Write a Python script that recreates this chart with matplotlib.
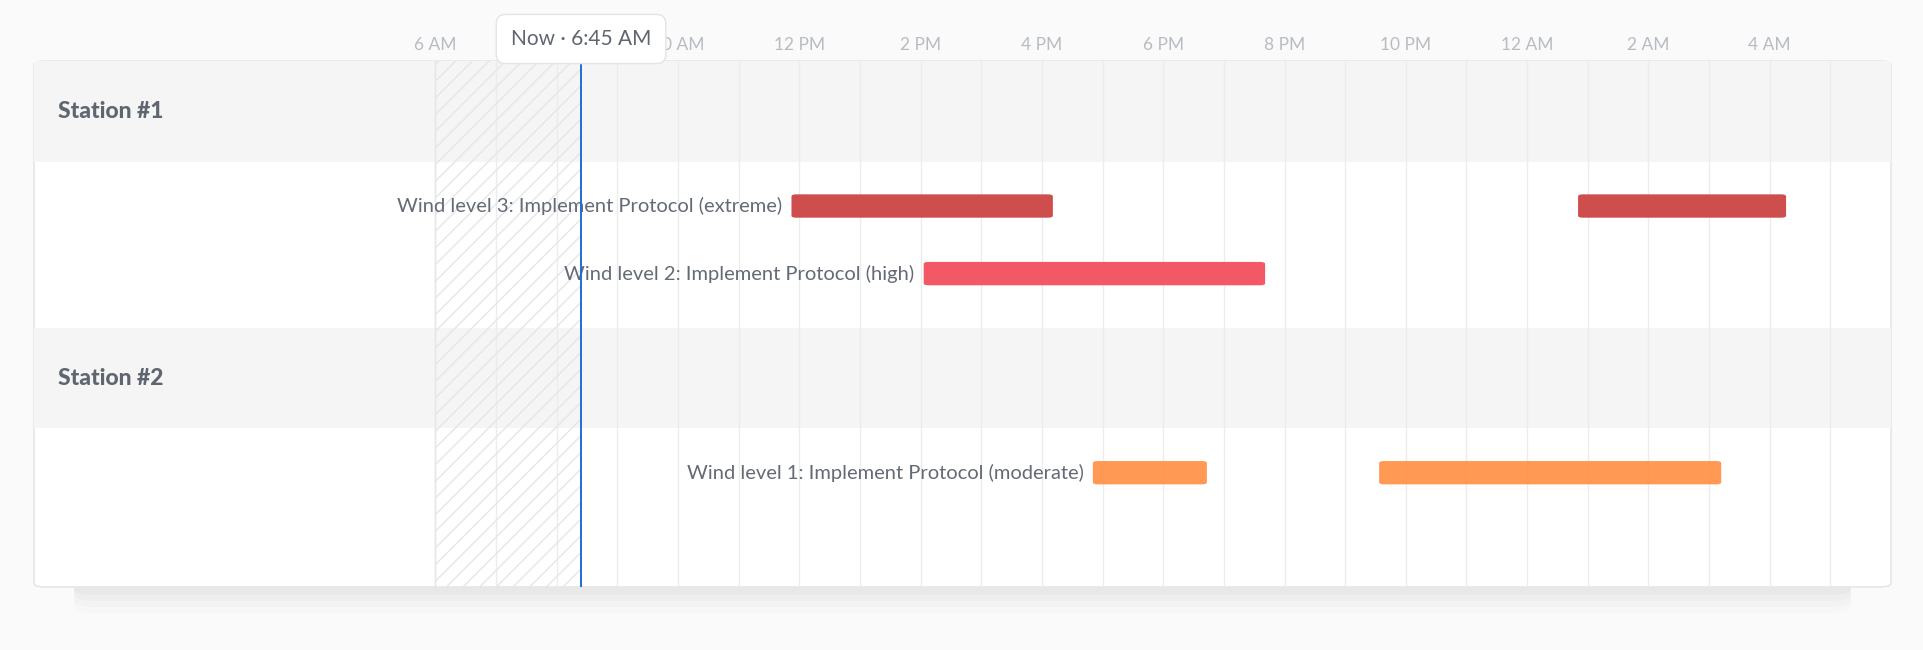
import matplotlib
matplotlib.use("Agg")
import matplotlib.pyplot as plt
from matplotlib.patches import Rectangle, FancyBboxPatch
import matplotlib.transforms as mtransforms

plt.rcParams['font.family'] = ['Lato', 'DejaVu Sans']

stations = ["Station #1", "Station #2"]
labels = ["Wind level 3: Implement Protocol (extreme)",
          "Wind level 2: Implement Protocol (high)",
          "Wind level 1: Implement Protocol (moderate)"]
colors = ["#cc4444", "#f24f5e", "#ff944a"]
# hours since midnight of day 1
starts = [[11.87, 24.84], [14.05], [16.84, 21.56]]
ends = [[16.18, 28.27], [19.68], [18.72, 27.2]]
tick_hours = [6, 8, 10, 12, 14, 16, 18, 20, 22, 24, 26, 28]
tick_labels = ["6 AM", "8 AM", "10 AM", "12 PM", "2 PM", "4 PM", "6 PM", "8 PM",
               "10 PM", "12 AM", "2 AM", "4 AM"]
now_hour = 8.4
now_label = "Now · 6:45 AM"

W, H = 1924, 650
fig = plt.figure(figsize=(W/100, H/100), dpi=100, facecolor="#fafafa")
L, R, T, B = 34, 1891, 61, 587
ax = fig.add_axes([L/W, 1-B/H, (R-L)/W, (B-T)/H])
ax.set_zorder(1)
ax.set_xlim(-0.62, 30)
ax.set_ylim(428, 0)
ax.axis("off")

# card shadow + card
for k, a in enumerate([0.025, 0.02, 0.015, 0.01]):
    sh = FancyBboxPatch(((L+40)/W, 1-(B+8+k*6)/H), (R-L-80)/W, (B-T-60)/H,
                        boxstyle="round,pad=0,rounding_size=0.01", transform=fig.transFigure,
                        fc="black", ec="none", alpha=a, zorder=-20)
    fig.patches.append(sh)
card = FancyBboxPatch((L/W, 1-B/H), (R-L)/W, (B-T)/H, boxstyle="round,pad=0,rounding_size=0.006",
                      transform=fig.transFigure, fc="white", ec="#e6e6e6", lw=1.2, zorder=-10)
fig.patches.append(card)
# header bands
for y0 in (0, 217):
    ax.axhspan(y0, y0+82, color="#f5f5f5", zorder=1, lw=0)
# gridlines
for h in range(6, 30):
    ax.axvline(h, color="#ececec", lw=1, zorder=2)
# hatch past region
ax.add_patch(Rectangle((6, 0), now_hour-6, 428, fill=False, hatch="//", ec="#e6e6e6", lw=0, zorder=2))
ax.axvline(6, color="#e6e6e6", lw=1, zorder=2)
# station headers
hdr_tr = mtransforms.blended_transform_factory(ax.transAxes, ax.transData)
for i, s in enumerate(stations):
    ax.text(0.013, [41, 258][i], s, transform=hdr_tr,
            fontsize=16.5, fontweight="black", color="#5f6670", va="center", zorder=5)
# bars
ys = [118, 173, 335]
for i in range(3):
    for s, e in zip(starts[i], ends[i]):
        ax.add_patch(FancyBboxPatch((s, ys[i]-9.5), e-s, 19, boxstyle="round,pad=0,rounding_size=0.08",
                                    mutation_aspect=20, fc=colors[i], ec="none", alpha=0.95, zorder=4))
    ax.text(starts[i][0]-0.15, ys[i], labels[i], ha="right", va="center", fontsize=14.5,
            color="#646b75", zorder=5)
# now line
ax.axvline(now_hour, color="#1f6fd6", lw=1.4, zorder=6)
# ticks
tr = mtransforms.blended_transform_factory(ax.transData, fig.transFigure)
for h, lab in zip(tick_hours, tick_labels):
    fig.text(h, 1-45/H, lab, transform=tr, ha="center", va="center", fontsize=12.5, color="#b8bcc2", zorder=2)
# tooltip
fig.text(now_hour, 1-39/H, now_label, transform=tr, ha="center", va="center", fontsize=15, color="#5f6670",
         zorder=10, bbox=dict(boxstyle="round,pad=0.7,rounding_size=0.45", fc="white", ec="#e4e4e4", lw=1))

fig.savefig("out.png", dpi=100, facecolor=fig.get_facecolor())
